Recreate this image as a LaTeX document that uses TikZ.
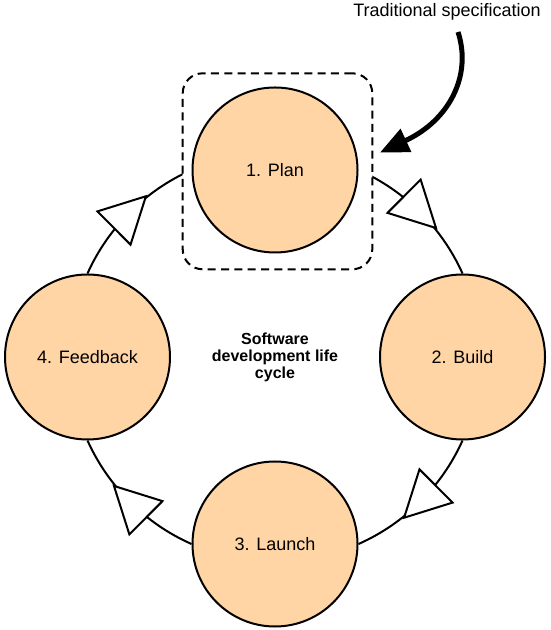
\documentclass[tikz,border=0pt]{standalone}
\usepackage{fontspec}
\setmainfont{Liberation Sans}
\usetikzlibrary{arrows.meta,decorations.markings}
\definecolor{peach}{RGB}{255,213,166}
\pgfdeclarelayer{bg}
\pgfsetlayers{bg,main}
\begin{document}
\begin{tikzpicture}[x=0.75pt,y=0.75pt,
  stage/.style={circle,draw=black,line width=1.5pt,fill=peach,minimum size=123.75pt,inner sep=0pt,font=\fontsize{13.5}{16}\selectfont},
  flowtip/.style={draw=black,fill=white,line width=1.5pt,line join=miter},
  cycleline/.style={line width=1.5pt,looseness=0.88,
    decoration={markings,mark=at position 0.5 with {\draw[flowtip] (16.9pt,0pt) -- (-16.9pt,17.6pt) -- (-16.9pt,-17.6pt) -- cycle;}},
    postaction={decorate}},
  focusbox/.style={draw=black,fill=white,line width=1.5pt,dash pattern=on 6pt off 4pt,rounded corners=15pt,inner sep=0pt},
  bigarrow/.style={line width=3.75pt,-{Triangle[length=21.5pt,width=18.4pt]}}]
\useasboundingbox (0,0) rectangle (550,630);

\node[stage] (plan) at (275,460) {1. Plan};
\node[stage] (build) at (462.5,273) {2. Build};
\node[stage] (launch) at (275,86) {3. Launch};
\node[stage] (feedback) at (87.5,273) {4. Feedback};

\node[font=\bfseries\fontsize{12}{12.75}\selectfont,align=center] (title) at (275,273) {Software\\development life\\cycle};

\begin{pgfonlayer}{bg}
  \draw[cycleline] (plan.east) to[bend left=21] (build.north);
  \draw[cycleline] (build.south) to[bend left=21] (launch.east);
  \draw[cycleline] (launch.west) to[bend left=21] (feedback.south);
  \draw[cycleline] (feedback.north) to[bend left=21] (plan.west);
  \node[focusbox,minimum width=142.2pt,minimum height=147pt] (focus) at (277.5,458.7) {};
\end{pgfonlayer}

\node[font=\fontsize{13.5}{16}\selectfont] (spec) at (447,618) {Traditional specification};
\coordinate (spectail) at (458,598);
\coordinate (spechead) at (380,477.5);
\draw[bigarrow] (spectail) .. controls (472,555) and (450,510) .. (spechead);
\end{tikzpicture}
\end{document}
